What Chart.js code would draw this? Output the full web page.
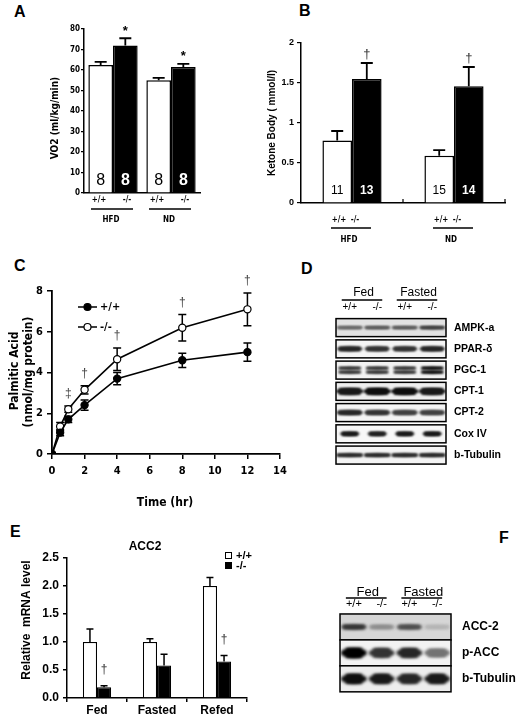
<!DOCTYPE html>
<html>
<head>
<meta charset="utf-8">
<script src="https://cdn.jsdelivr.net/npm/chart.js@4.4.1/dist/chart.umd.min.js"></script>
<style>
body { margin: 0; background: #fff; width: 520px; height: 716px; position: relative; overflow: hidden; font-family: "Liberation Sans", Arial, sans-serif; }
canvas { position: absolute; }
.panel { position: absolute; font-weight: bold; font-size: 16px; line-height: 1; }
</style>
</head>
<body>
<div class="panel" style="left:14px;top:4px">A</div>
<div class="panel" style="left:299px;top:3px">B</div>
<div class="panel" style="left:14px;top:258px">C</div>
<div class="panel" style="left:301px;top:261px">D</div>
<div class="panel" style="left:10px;top:524px">E</div>
<div class="panel" style="left:499px;top:530px">F</div>

<canvas id="chartA" width="260" height="230" style="left:0;top:0"></canvas>
<canvas id="chartB" width="260" height="250" style="left:260px;top:0"></canvas>
<canvas id="chartC" width="300" height="285" style="left:0;top:230px"></canvas>
<canvas id="chartD" width="220" height="200" style="left:300px;top:280px"></canvas>
<canvas id="chartE" width="300" height="201" style="left:0;top:515px"></canvas>
<canvas id="chartF" width="220" height="140" style="left:300px;top:570px"></canvas>

<script>
// ---- data ----
const genotypes = ['+/+', '-/-'];
const dietGroups = ['HFD', 'ND'];

// A: VO2 (ml/kg/min)
const vo2WT = [62.5, 55];
const vo2KO = [72, 61.5];
const vo2WTErr = [1.5, 1.2];
const vo2KOErr = [3.5, 1.5];
const vo2CountWT = [8, 8];
const vo2CountKO = [8, 8];
const vo2MarkKO = ['*', '*'];

// B: ketone body (mmol/l)
const ketWT = [0.78, 0.59];
const ketKO = [1.55, 1.46];
const ketWTErr = [0.12, 0.07];
const ketKOErr = [0.2, 0.24];
const ketCountWT = [11, 15];
const ketCountKO = [13, 14];
const ketMarkKO = ['\u2020', '\u2020'];

// C: palmitic acid oxidation over time
const timeHr = [0, 0.5, 1, 2, 4, 8, 12];
const palmWT = [0, 1.05, 1.7, 2.4, 3.7, 4.6, 5.0];
const palmWTErr = [0, 0.15, 0.15, 0.25, 0.3, 0.35, 0.45];
const palmKO = [0, 1.35, 2.2, 3.15, 4.65, 6.2, 7.1];
const palmKOErr = [0, 0.2, 0.15, 0.2, 0.55, 0.65, 0.8];
const palmMarks = ['', '', '\u2021', '\u2020', '\u2020', '\u2020', '\u2020'];

// E: ACC2 relative mRNA
const feedStates = ['Fed', 'Fasted', 'Refed'];
const accWT = [1.0, 1.0, 2.0];
const accKO = [0.19, 0.58, 0.65];
const accWTErr = [0.23, 0.06, 0.15];
const accKOErr = [0.03, 0.2, 0.11];
const accMarkKO = ['\u2020', '', '\u2020'];

// D / F: western blots (band darkness per lane)
const blotConditions = ['Fed', 'Fasted'];
const blotLanes = ['+/+', '-/-', '+/+', '-/-'];
const blotRowsD = ['AMPK-a', 'PPAR-\u03b4', 'PGC-1', 'CPT-1', 'CPT-2', 'Cox IV', 'b-Tubulin'];
const blotBandsD = [
  [0.6, 0.65, 0.65, 0.75],
  [0.85, 0.8, 0.8, 0.85],
  [0.8, 0.8, 0.8, 0.95],
  [0.9, 0.95, 0.95, 0.9],
  [0.85, 0.8, 0.75, 0.75],
  [0.9, 0.88, 0.9, 0.9],
  [0.85, 0.85, 0.85, 0.85]
];
const blotRowsF = ['ACC-2', 'p-ACC', 'b-Tubulin'];
const blotBandsF = [
  [0.8, 0.45, 0.7, 0.3],
  [1.0, 0.8, 0.85, 0.55],
  [0.95, 0.9, 0.85, 0.9]
];

// ---- shared setup ----
Chart.defaults.font.family = '"Liberation Sans", Arial, sans-serif';
Chart.defaults.color = '#000';
Chart.defaults.animation = false;
Chart.defaults.responsive = false;
Chart.defaults.plugins.legend.display = false;
Chart.defaults.plugins.tooltip.enabled = false;

const NARROW = '"Liberation Sans Narrow", "DejaVu Sans Condensed", Arial, sans-serif';

function valOf(v) { return typeof v === 'object' ? v.y : v; }

// error bars drawn under the marks
const errorBars = {
  id: 'errorBars',
  beforeDatasetsDraw(chart) {
    const ctx = chart.ctx, y = chart.scales.y;
    chart.data.datasets.forEach((ds, di) => {
      if (!ds.err) return;
      chart.getDatasetMeta(di).data.forEach((el, i) => {
        const e = ds.err[i];
        if (!e) return;
        const v = valOf(ds.data[i]);
        const top = y.getPixelForValue(v + e);
        const bot = ds.errBoth ? y.getPixelForValue(v - e) : el.y;
        const cap = ds.capW || 4;
        ctx.save();
        ctx.strokeStyle = '#000';
        ctx.lineWidth = ds.errW || 1.5;
        ctx.beginPath();
        ctx.moveTo(el.x, bot); ctx.lineTo(el.x, top);
        ctx.moveTo(el.x - cap, top); ctx.lineTo(el.x + cap, top);
        if (ds.errBoth) { ctx.moveTo(el.x - cap, bot); ctx.lineTo(el.x + cap, bot); }
        ctx.stroke();
        ctx.restore();
      });
    });
  }
};

// n counts inside bars and significance marks above error bars
function barNotes(cfg) {
  return {
    id: 'barNotes',
    afterDatasetsDraw(chart) {
      const ctx = chart.ctx, y = chart.scales.y;
      chart.data.datasets.forEach((ds, di) => {
        chart.getDatasetMeta(di).data.forEach((el, i) => {
          const v = valOf(ds.data[i]);
          ctx.save();
          ctx.textAlign = 'center';
          ctx.textBaseline = 'middle';
          if (ds.counts) {
            ctx.font = (ds.countBold ? 'bold ' : '') + cfg.countSize + 'px "Liberation Sans", Arial, sans-serif';
            ctx.fillStyle = ds.countColor || '#000';
            ctx.fillText(String(ds.counts[i]), el.x, y.bottom - cfg.countLift);
          }
          if (ds.marks && ds.marks[i]) {
            const top = y.getPixelForValue(v + (ds.err ? ds.err[i] : 0));
            ctx.font = cfg.markFont;
            ctx.fillStyle = cfg.markColor || '#000';
            ctx.fillText(ds.marks[i], el.x, top - cfg.markGap);
          }
          ctx.restore();
        });
      });
    }
  };
}

// genotype labels, underline and diet group under the x axis
function groupLabels(cfg) {
  return {
    id: 'groupLabels',
    afterDraw(chart) {
      const ctx = chart.ctx, x = chart.scales.x;
      ctx.save();
      ctx.fillStyle = '#000';
      ctx.strokeStyle = '#000';
      ctx.textAlign = 'center';
      ctx.textBaseline = 'middle';
      chart.data.labels.forEach((g, i) => {
        const cx = x.getPixelForValue(i);
        ctx.font = cfg.font;
        genotypes.forEach((gt, k) => {
          ctx.fillText(gt, cx + cfg.genoShift + (k ? cfg.dx : -cfg.dx), cfg.genoY);
        });
        ctx.lineWidth = 1.5;
        ctx.beginPath();
        ctx.moveTo(cx + cfg.lineShift - cfg.lineHalf, cfg.lineY);
        ctx.lineTo(cx + cfg.lineShift + cfg.lineHalf, cfg.lineY);
        ctx.stroke();
        ctx.fillText(g, cx + cfg.groupShift, cfg.groupY);
      });
      if (cfg.upTicks) {
        ctx.lineWidth = 1.2;
        ctx.beginPath();
        for (let i = 1; i <= chart.data.labels.length; i++) {
          const bx = x.getPixelForValue(i - 0.5);
          ctx.moveTo(bx, x.top); ctx.lineTo(bx, x.top - 4);
        }
        ctx.stroke();
      }
      ctx.restore();
    }
  };
}

// free text (axis titles, legends) in canvas coordinates
function extraText(items) {
  return {
    id: 'extraText',
    afterDraw(chart) {
      const ctx = chart.ctx;
      items.forEach(t => {
        ctx.save();
        ctx.translate(t.x, t.y);
        if (t.rot) ctx.rotate(t.rot);
        ctx.font = t.font;
        ctx.fillStyle = '#000';
        ctx.textAlign = t.align || 'center';
        ctx.textBaseline = 'middle';
        ctx.fillText(t.text, 0, 0);
        ctx.restore();
      });
    }
  };
}

function fixedScale(size) {
  return function (s) { if (s.isHorizontal()) s.height = size; else s.width = size; };
}

// ---- A ----
new Chart(document.getElementById('chartA'), {
  type: 'bar',
  data: {
    labels: dietGroups,
    datasets: [
      { data: vo2WT, err: vo2WTErr, counts: vo2CountWT, backgroundColor: '#fff', borderColor: '#000', borderWidth: 1.5, capW: 6, errW: 1.8 },
      { data: vo2KO, err: vo2KOErr, counts: vo2CountKO, marks: vo2MarkKO, countColor: '#fff', countBold: true,
        backgroundColor: '#000', borderColor: '#000', borderWidth: 1.5, capW: 6, errW: 1.8 }
    ]
  },
  options: {
    layout: { padding: { top: 29, right: 60, left: 0, bottom: 0 } },
    datasets: { bar: { categoryPercentage: 0.85, barPercentage: 1 } },
    scales: {
      x: {
        grid: { display: false }, ticks: { display: false },
        border: { color: '#000', width: 1.5 }, afterFit: fixedScale(37)
      },
      y: {
        min: 0, max: 80,
        ticks: { stepSize: 10, font: { size: 8, weight: 'bold', family: NARROW }, padding: 1 },
        grid: { drawOnChartArea: false, tickLength: 3, color: '#000', lineWidth: 1.2 },
        border: { color: '#000', width: 1.5 }, afterFit: fixedScale(84)
      }
    }
  },
  plugins: [errorBars,
    barNotes({ countSize: 16, countLift: 12, markFont: 'bold 13px "Liberation Sans", Arial', markGap: 7 }),
    groupLabels({ font: 'bold 8px ' + NARROW, genoY: 200, dx: 14, genoShift: 0, lineY: 209, lineHalf: 21, lineShift: -1, groupY: 220, groupShift: -2 }),
    extraText([{ text: 'VO2 (ml/kg/min)', x: 55, y: 118, rot: -Math.PI / 2, font: 'bold 10px ' + NARROW }])
  ]
});

// ---- B ----
new Chart(document.getElementById('chartB'), {
  type: 'bar',
  data: {
    labels: dietGroups,
    datasets: [
      { data: ketWT, err: ketWTErr, counts: ketCountWT, backgroundColor: '#fff', borderColor: '#000', borderWidth: 1.5, capW: 6, errW: 1.8 },
      { data: ketKO, err: ketKOErr, counts: ketCountKO, marks: ketMarkKO, countColor: '#fff', countBold: true,
        backgroundColor: '#000', borderColor: '#000', borderWidth: 1.5, capW: 6, errW: 1.8 }
    ]
  },
  options: {
    layout: { padding: { top: 43, right: 15, left: 0, bottom: 0 } },
    datasets: { bar: { categoryPercentage: 0.58, barPercentage: 1 } },
    scales: {
      x: {
        grid: { display: false }, ticks: { display: false },
        border: { color: '#000', width: 1.5 }, afterFit: fixedScale(47)
      },
      y: {
        min: 0, max: 2,
        ticks: { stepSize: 0.5, font: { size: 9, weight: 'bold' }, padding: 3, callback: v => String(v) },
        grid: { drawOnChartArea: false, tickLength: 4, color: '#000', lineWidth: 1.2 },
        border: { color: '#000', width: 1.5 }, afterFit: fixedScale(41)
      }
    }
  },
  plugins: [errorBars,
    barNotes({ countSize: 12, countLift: 12, markFont: '13px "Liberation Sans", Arial', markColor: '#333', markGap: 9 }),
    groupLabels({ font: 'bold 8px ' + NARROW, genoY: 220, dx: 8, genoShift: -5, lineY: 228, lineHalf: 20, lineShift: -1, groupY: 240, groupShift: -3, upTicks: true }),
    extraText([{ text: 'Ketone Body ( mmol/l)', x: 12, y: 123, rot: -Math.PI / 2, font: 'bold 10px "Liberation Sans", Arial' }])
  ]
});

// ---- C ----
function pts(ys) { return timeHr.map((t, i) => ({ x: t, y: ys[i] })); }

const legendC = {
  id: 'legendC',
  afterDraw(chart) {
    const ctx = chart.ctx;
    chart.data.datasets.forEach((ds, i) => {
      const y = 77 + i * 20;
      ctx.save();
      ctx.strokeStyle = '#000';
      ctx.lineWidth = 1.5;
      ctx.beginPath(); ctx.moveTo(78, y); ctx.lineTo(97, y); ctx.stroke();
      ctx.beginPath(); ctx.arc(87.5, y, 3.5, 0, Math.PI * 2);
      ctx.fillStyle = ds.pointBackgroundColor; ctx.fill();
      ctx.lineWidth = 1.2; ctx.stroke();
      ctx.fillStyle = '#000';
      ctx.font = 'bold 11px ' + NARROW;
      ctx.textBaseline = 'middle';
      ctx.fillText(ds.label, 100, y);
      ctx.restore();
    });
  }
};

new Chart(document.getElementById('chartC'), {
  type: 'line',
  data: {
    datasets: [
      { label: '+/+', data: pts(palmWT), err: palmWTErr, errBoth: true, capW: 4, errW: 1.5,
        borderColor: '#000', borderWidth: 1.6, pointBackgroundColor: '#000', pointBorderColor: '#000', pointRadius: 3.6, pointBorderWidth: 1.2 },
      { label: '-/-', data: pts(palmKO), err: palmKOErr, errBoth: true, marks: palmMarks, capW: 4, errW: 1.5,
        borderColor: '#000', borderWidth: 1.6, pointBackgroundColor: '#fff', pointBorderColor: '#000', pointRadius: 3.6, pointBorderWidth: 1.2 }
    ]
  },
  options: {
    layout: { padding: { top: 61, right: 20, left: 0, bottom: 0 } },
    scales: {
      x: {
        type: 'linear', min: 0, max: 14,
        ticks: { stepSize: 2, font: { size: 11, weight: 'bold', family: NARROW }, padding: 6 },
        grid: { drawOnChartArea: false, tickLength: 5, color: '#000', lineWidth: 1.5 },
        border: { color: '#000', width: 1.8 }, afterFit: fixedScale(61)
      },
      y: {
        min: 0, max: 8,
        ticks: { stepSize: 2, font: { size: 11, weight: 'bold', family: NARROW }, padding: 4 },
        grid: { drawOnChartArea: false, tickLength: 5, color: '#000', lineWidth: 1.5 },
        border: { color: '#000', width: 1.8 }, afterFit: fixedScale(52)
      }
    }
  },
  plugins: [errorBars, legendC,
    barNotes({ countSize: 10, countLift: 0, markFont: '12px "Liberation Sans", Arial', markColor: '#444', markGap: 12 }),
    extraText([
      { text: 'Time (hr)', x: 165, y: 273, font: 'bold 12px ' + NARROW },
      { text: 'Palmitic Acid', x: 15, y: 141, rot: -Math.PI / 2, font: 'bold 12px ' + NARROW },
      { text: '(nmol/mg protein)', x: 29, y: 142, rot: -Math.PI / 2, font: 'bold 12px ' + NARROW }
    ])
  ]
});

// ---- E ----
const legendE = {
  id: 'legendE',
  afterDraw(chart) {
    const ctx = chart.ctx;
    chart.data.datasets.forEach((ds, i) => {
      const y = 40 + i * 10;
      ctx.save();
      ctx.fillStyle = ds.backgroundColor;
      ctx.strokeStyle = '#000';
      ctx.lineWidth = 1;
      ctx.fillRect(225, y - 3, 7, 7);
      ctx.strokeRect(225.5, y - 2.5, 6, 6);
      ctx.fillStyle = '#000';
      ctx.font = 'bold 11px "Liberation Sans", Arial';
      ctx.textBaseline = 'middle';
      ctx.fillText(ds.label, 236, y + 1);
      ctx.restore();
    });
  }
};

new Chart(document.getElementById('chartE'), {
  type: 'bar',
  data: {
    labels: feedStates,
    datasets: [
      { label: '+/+', data: accWT, err: accWTErr, backgroundColor: '#fff', borderColor: '#000', borderWidth: 1.2, capW: 3.5, errW: 1.5 },
      { label: '-/-', data: accKO, err: accKOErr, marks: accMarkKO, backgroundColor: '#000', borderColor: '#000', borderWidth: 1.2, capW: 3.5, errW: 1.5 }
    ]
  },
  options: {
    layout: { padding: { top: 43, right: 53, left: 0, bottom: 0 } },
    datasets: { bar: { categoryPercentage: 0.47, barPercentage: 1 } },
    scales: {
      x: {
        ticks: { font: { size: 12, weight: 'bold' }, padding: 1 },
        grid: { offset: true, drawOnChartArea: false, tickLength: 4, color: '#000', lineWidth: 1.5 },
        border: { color: '#000', width: 1.5 }, afterFit: fixedScale(18)
      },
      y: {
        min: 0, max: 2.5,
        ticks: { stepSize: 0.5, font: { size: 12, weight: 'bold' }, padding: 4, callback: v => Number(v).toFixed(1) },
        grid: { drawOnChartArea: false, tickLength: 4, color: '#000', lineWidth: 1.5 },
        border: { color: '#000', width: 1.5 }, afterFit: fixedScale(67)
      }
    }
  },
  plugins: [errorBars, legendE,
    barNotes({ countSize: 10, countLift: 0, markFont: '12px "Liberation Sans", Arial', markColor: '#333', markGap: 16 }),
    extraText([
      { text: 'ACC2', x: 145, y: 32, font: 'bold 12px "Liberation Sans", Arial' },
      { text: 'Relative  mRNA level', x: 27, y: 105, rot: -Math.PI / 2, font: 'bold 12px "Liberation Sans", Arial' }
    ])
  ]
});

// ---- blots (D, F) ----
function blotPlugin(bands, cfg) {
  return {
    id: 'blot',
    afterDraw(chart) {
      const ctx = chart.ctx, x = chart.scales.x, y = chart.scales.y, area = chart.chartArea;
      // condition headers over lane pairs
      ctx.save();
      ctx.fillStyle = '#000';
      ctx.strokeStyle = '#000';
      ctx.textAlign = 'center';
      ctx.textBaseline = 'middle';
      ctx.font = cfg.headFont;
      blotConditions.forEach((c, k) => {
        const x0 = x.getPixelForValue(k * 2), x1 = x.getPixelForValue(k * 2 + 1);
        ctx.fillText(c, (x0 + x1) / 2, cfg.headY);
        ctx.lineWidth = 1.3;
        ctx.beginPath();
        ctx.moveTo(x0 - 8, cfg.headLineY); ctx.lineTo(x1 + 5, cfg.headLineY);
        ctx.stroke();
      });
      ctx.restore();

      bands.forEach((row, r) => {
        const cy = y.getPixelForValue(r);
        const st = cfg.rows[r];
        const top = cy - cfg.boxH / 2;
        ctx.save();
        ctx.beginPath();
        ctx.rect(area.left, top, area.right - area.left, cfg.boxH);
        ctx.clip();
        ctx.fillStyle = st.bg;
        ctx.fillRect(area.left, top, area.right - area.left, cfg.boxH);
        ctx.filter = 'blur(' + (st.blur || 1) + 'px)';
        row.forEach((v, j) => {
          const cx = x.getPixelForValue(j);
          const h = st.h * (0.55 + 0.45 * v);
          const g = Math.round(255 * (1 - v));
          ctx.fillStyle = 'rgb(' + g + ',' + g + ',' + g + ')';
          (st.offsets || [0]).forEach(off => {
            ctx.beginPath();
            ctx.ellipse(cx, cy + off, st.w / 2, h / 2, 0, 0, Math.PI * 2);
            ctx.fill();
            ctx.fillRect(cx - st.w / 2 + h / 2, cy + off - h / 2, st.w - h, h);
          });
        });
        ctx.restore();
        ctx.save();
        ctx.strokeStyle = '#000';
        ctx.lineWidth = 1.5;
        ctx.strokeRect(area.left, top, area.right - area.left, cfg.boxH);
        ctx.restore();
      });
    }
  };
}

function blotChart(id, rows, bands, cfg) {
  return new Chart(document.getElementById(id), {
    type: 'scatter',
    data: { datasets: [] },
    options: {
      layout: { padding: { left: cfg.left, top: 0, right: 0, bottom: cfg.bottom } },
      scales: {
        x: {
          type: 'category', labels: blotLanes, position: 'top', offset: true,
          ticks: { font: { size: cfg.laneSize }, padding: cfg.lanePad, autoSkip: false, maxRotation: 0 },
          grid: { display: false, drawTicks: false }, border: { display: false }, afterFit: fixedScale(cfg.top)
        },
        y: {
          type: 'category', labels: rows, position: 'right', offset: true,
          ticks: { font: { size: cfg.rowSize, weight: 'bold' }, padding: cfg.rowPad, autoSkip: false },
          grid: { display: false, drawTicks: false }, border: { display: false }, afterFit: fixedScale(cfg.right)
        }
      }
    },
    plugins: [blotPlugin(bands, cfg)]
  });
}

blotChart('chartD', blotRowsD, blotBandsD, {
  left: 36, bottom: 7, top: 37, right: 74, laneSize: 10, lanePad: 4, rowSize: 10.5, rowPad: 8,
  headFont: '12px "Liberation Sans", Arial', headY: 13, headLineY: 20, boxH: 18,
  rows: [
    { bg: '#e2e2e2', h: 3.5, w: 27, blur: 1.2 },
    { bg: '#f4f4f4', h: 5, w: 26 },
    { bg: '#f2f2f2', h: 2.8, w: 24, offsets: [-2, 2], blur: 0.8 },
    { bg: '#eeeeee', h: 7, w: 28, blur: 1.3 },
    { bg: '#f4f4f4', h: 5, w: 27 },
    { bg: '#f7f7f7', h: 4.5, w: 20 },
    { bg: '#f4f4f4', h: 3.5, w: 28 }
  ]
});

blotChart('chartF', blotRowsF, blotBandsF, {
  left: 40, bottom: 7, top: 44, right: 69, laneSize: 11, lanePad: 3, rowSize: 12, rowPad: 11,
  headFont: '13px "Liberation Sans", Arial', headY: 22, headLineY: 28, boxH: 26,
  rows: [
    { bg: '#d6d6d6', h: 5, w: 26, blur: 1.4 },
    { bg: '#f2f2f2', h: 10, w: 26, blur: 1.4 },
    { bg: '#ededed', h: 10, w: 26, blur: 1.4 }
  ]
});
</script>
</body>
</html>
